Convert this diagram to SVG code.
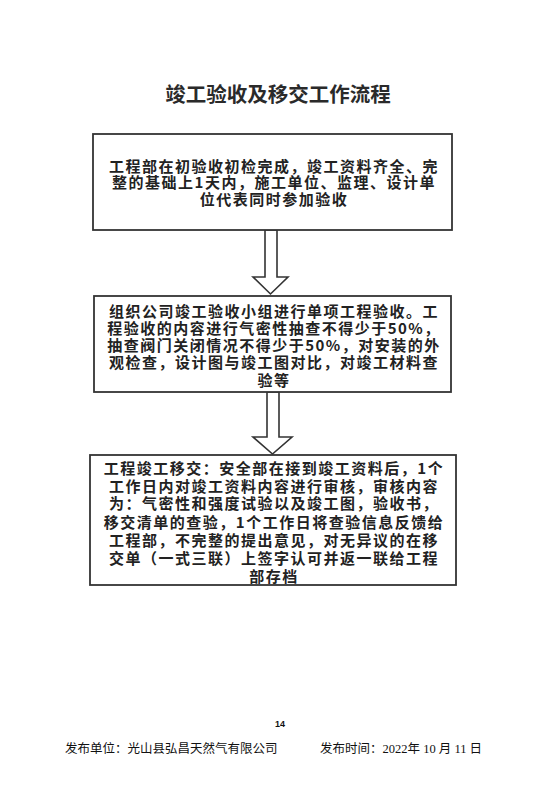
<svg xmlns="http://www.w3.org/2000/svg" width="551" height="787" viewBox="0 0 551 787">
<style>
.box{fill:#fff;stroke:#333;stroke-width:1.8}
.arr{fill:#fff;stroke:#333;stroke-width:1.6;stroke-linejoin:miter}
.t{font-family:"Noto Sans CJK SC","Noto Sans",sans-serif;font-weight:bold;font-size:15px;letter-spacing:1.5px;fill:#222;text-anchor:middle}
.title{font-family:"Noto Sans CJK SC","Noto Sans",sans-serif;font-weight:bold;font-size:20.5px;fill:#2a2a2a;text-anchor:middle}
.foot{font-family:"Liberation Serif","Noto Sans CJK SC",serif;font-size:12.5px;fill:#111}
.pg{font-family:"Liberation Sans",sans-serif;font-weight:bold;font-size:9px;fill:#111;text-anchor:middle}
</style>
<rect width="551" height="787" fill="#fff"/>
<text class="title" x="278" y="102">竣工验收及移交工作流程</text>
<g id="connectors">
<polygon class="arr" points="265,230 277,230 277,277 288,277 270.5,294 253,277 265,277"/>
<polygon class="arr" points="267,392 279,392 279,437 292,437 272.5,454 253,437 267,437"/>
</g>
<g id="node1">
<rect class="box" x="93" y="134" width="359" height="96"/>
<text class="t"><tspan x="274" y="171.5">工程部在初验收初检完成，竣工资料齐全、完</tspan><tspan x="274" y="188">整的基础上1天内，施工单位、监理、设计单</tspan><tspan x="274" y="204.5">位代表同时参加验收</tspan></text>
</g>
<g id="node2">
<rect class="box" x="94" y="296" width="357" height="96"/>
<text class="t"><tspan x="274" y="316.5">组织公司竣工验收小组进行单项工程验收。工</tspan><tspan x="274" y="333.5">程验收的内容进行气密性抽查不得少于50%，</tspan><tspan x="274" y="351">抽查阀门关闭情况不得少于50%，对安装的外</tspan><tspan x="274" y="368">观检查，设计图与竣工图对比，对竣工材料查</tspan><tspan x="274" y="385.5">验等</tspan></text>
</g>
<g id="node3">
<rect class="box" x="90" y="455" width="366" height="130"/>
<text class="t"><tspan x="274" y="473.5">工程竣工移交：安全部在接到竣工资料后，1个</tspan><tspan x="274" y="491.5">工作日内对竣工资料内容进行审核，审核内容</tspan><tspan x="274" y="509">为：气密性和强度试验以及竣工图，验收书，</tspan><tspan x="274" y="527.5">移交清单的查验，1个工作日将查验信息反馈给</tspan><tspan x="274" y="545.5">工程部，不完整的提出意见，对无异议的在移</tspan><tspan x="274" y="563.5">交单（一式三联）上签字认可并返一联给工程</tspan><tspan x="274" y="581.5">部存档</tspan></text>
</g>
<text class="pg" x="280" y="727">14</text>
<text class="foot" x="65" y="753">发布单位：光山县弘昌天然气有限公司</text>
<text class="foot" x="320" y="753" xml:space="preserve">发布时间：2022年 10 月 11 日</text>
</svg>
